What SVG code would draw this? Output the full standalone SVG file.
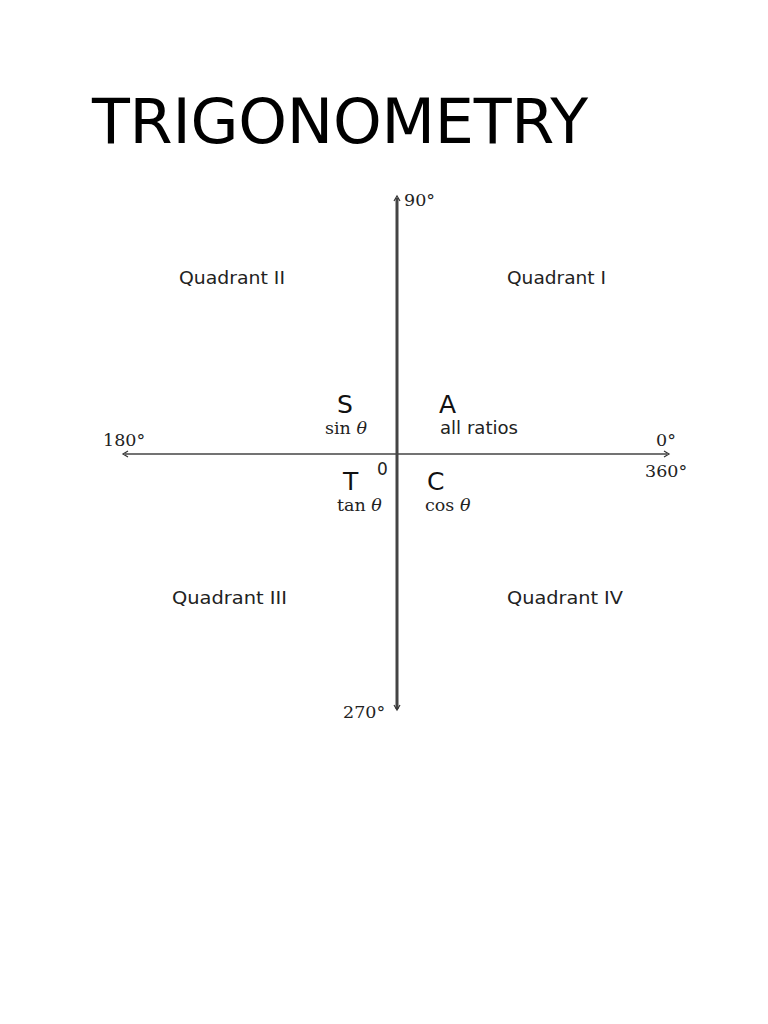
<svg xmlns="http://www.w3.org/2000/svg" width="768" height="1024" viewBox="0 0 768 1024">
<style>
.title{font-family:"DejaVu Sans",sans-serif;font-size:62px;fill:#000}
.m{font-family:"DejaVu Serif","Liberation Serif",serif;font-size:17.5px;fill:#222}
.s{font-family:"DejaVu Sans","Liberation Sans",sans-serif;font-size:17px;fill:#222}
.big{font-family:"DejaVu Sans","Liberation Sans",sans-serif;font-size:25px;fill:#111}
.axis{stroke:#444;fill:none}
.ah{stroke:#333;stroke-width:1.2;fill:none}
</style>
<rect width="768" height="1024" fill="#fff"/>
<text class="title" x="92" y="143" textLength="496">TRIGONOMETRY</text>
<g id="connectors">
<line class="axis" x1="397" y1="198" x2="397" y2="709" stroke-width="3" stroke="#555"/>
<line class="axis" x1="125" y1="454" x2="667" y2="454" stroke-width="1.6"/>
<polyline class="ah" points="394,201 397,196 400,201"/>
<polyline class="ah" points="394,705 397,710 400,705"/>
<polyline class="ah" points="128,451 123,454 128,457"/>
<polyline class="ah" points="664,451 669,454 664,457"/>
</g>
<g id="labels">
<text class="m" x="404" y="206">90°</text>
<text class="m" x="103" y="446">180°</text>
<text class="m" x="656" y="446">0°</text>
<text class="m" x="645" y="477">360°</text>
<text class="m" x="343" y="718">270°</text>
<text class="s" x="377" y="475" font-size="13">0</text>
</g>
<g id="q2"><text class="s" x="179" y="284" textLength="106" lengthAdjust="spacingAndGlyphs">Quadrant II</text></g>
<g id="q1"><text class="s" x="507" y="284" textLength="99" lengthAdjust="spacingAndGlyphs">Quadrant I</text></g>
<g id="q3"><text class="s" x="172" y="604" textLength="115" lengthAdjust="spacingAndGlyphs">Quadrant III</text></g>
<g id="q4"><text class="s" x="507" y="604" textLength="116" lengthAdjust="spacingAndGlyphs">Quadrant IV</text></g>
<g id="S"><text class="big" x="337" y="413">S</text><text class="m" x="325" y="434">sin <tspan font-style="italic">θ</tspan></text></g>
<g id="A"><text class="big" x="439" y="413">A</text><text class="s" x="440" y="434" textLength="78" lengthAdjust="spacingAndGlyphs">all ratios</text></g>
<g id="T"><text class="big" x="343" y="490">T</text><text class="m" x="337" y="511">tan <tspan font-style="italic">θ</tspan></text></g>
<g id="C"><text class="big" x="427" y="490">C</text><text class="m" x="425" y="511">cos <tspan font-style="italic">θ</tspan></text></g>
</svg>
